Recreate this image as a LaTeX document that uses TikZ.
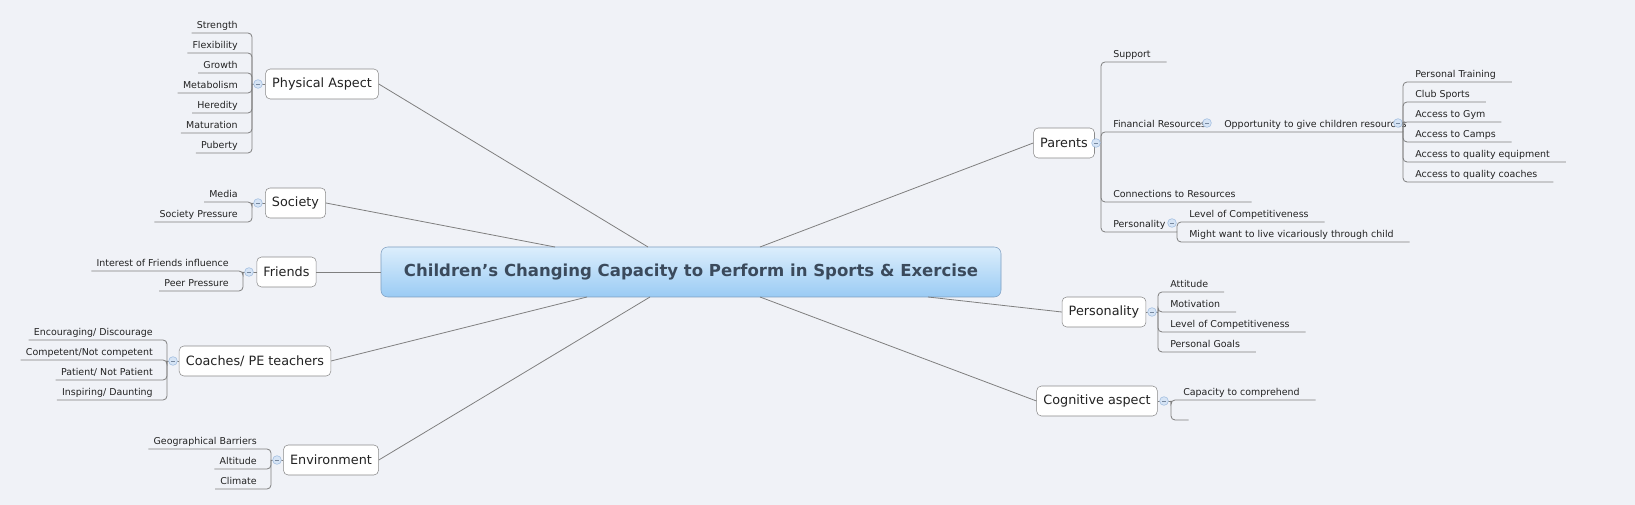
\documentclass[tikz,border=0pt]{standalone}
\usepackage{fontspec}
\setmainfont{DejaVu Sans}
\definecolor{bg}{HTML}{F0F2F7}
\definecolor{ln}{HTML}{7F7F7F}
\definecolor{bx}{HTML}{8A8A8A}
\definecolor{ctop}{HTML}{DCEEFC}
\definecolor{cbot}{HTML}{9ACBF4}
\definecolor{cbd}{HTML}{7E9EC0}
\definecolor{ttl}{HTML}{3B4A5C}
\definecolor{txt}{HTML}{222222}
\definecolor{cfill}{HTML}{D6E4F5}
\definecolor{cdraw}{HTML}{A9C3E3}
\tikzset{
  leaf/.style={inner xsep=3.75pt,inner ysep=0pt,text depth=3pt,text=txt,font=\fontsize{7.1}{8}\selectfont},
  br/.style={draw=ln,line width=0.6pt,rounded corners=3pt},
  main/.style={draw=bx,fill=white,rounded corners=3.5pt,minimum height=22.5pt,inner xsep=5pt,text=txt,font=\fontsize{9.6}{11}\selectfont},
  conn/.style={draw=ln,line width=0.6pt},
  coll/.style={circle,draw=cdraw,fill=cfill,minimum size=6.5pt,inner sep=0pt,line width=0.5pt,
     path picture={\draw[cdraw!70!black,line width=0.4pt] ([xshift=-1.6pt]path picture bounding box.center) -- ([xshift=1.6pt]path picture bounding box.center);}},
  center/.style={draw=cbd,rounded corners=5pt,top color=ctop,bottom color=cbot,minimum width=465pt,minimum height=37.5pt,text=ttl,font=\bfseries\fontsize{12.4}{14}\selectfont}
}
% left leaf: name, bracket x, y, text, hub
\newcommand\LLf[5]{\node[leaf,anchor=south east] (#1) at (#2-9,#3) {#4};
  \draw[br] (#1.south west) -- (#1.south east -| #5) -- (#5);}
% right leaf
\newcommand\RLf[5]{\node[leaf,anchor=south west] (#1) at (#2+7,#3) {#4};
  \draw[br] ([xshift=8pt]#1.south east) -- (#1.south west -| #5) -- (#5);}
\begin{document}
\begin{tikzpicture}[x=0.75pt,y=-0.75pt]
\fill[bg] (0,0) rectangle (1635,505);
\useasboundingbox (0,0) rectangle (1635,505);

\node[center] (C) at (691,272) {Children's Changing Capacity to Perform in Sports \& Exercise};

% ---- Physical Aspect
\node[main] (PA) at (322,84) {Physical Aspect};
\coordinate (hPA) at (252,84);
\LLf{pa1}{252}{33}{Strength}{hPA}
\LLf{pa2}{252}{53}{Flexibility}{hPA}
\LLf{pa3}{252}{73}{Growth}{hPA}
\LLf{pa4}{252}{93}{Metabolism}{hPA}
\LLf{pa5}{252}{113}{Heredity}{hPA}
\LLf{pa6}{252}{133}{Maturation}{hPA}
\LLf{pa7}{252}{153}{Puberty}{hPA}
\draw[conn] (hPA) -- (PA.west);
\node[coll] (cPA) at (258,84) {};

% ---- Society
\node[main] (SO) at (295.5,203) {Society};
\coordinate (hSO) at (252,203);
\LLf{so1}{252}{202}{Media}{hSO}
\LLf{so2}{252}{222}{Society Pressure}{hSO}
\draw[conn] (hSO) -- (SO.west);
\node[coll] (cSO) at (258,203) {};

% ---- Friends
\node[main] (FR) at (286.5,272) {Friends};
\coordinate (hFR) at (243,272);
\LLf{fr1}{243}{271}{Interest of Friends influence}{hFR}
\LLf{fr2}{243}{291}{Peer Pressure}{hFR}
\draw[conn] (hFR) -- (FR.west);
\node[coll] (cFR) at (249,272) {};

% ---- Coaches
\node[main] (CO) at (255,361) {Coaches/ PE teachers};
\coordinate (hCO) at (167,361);
\LLf{co1}{167}{340}{Encouraging/ Discourage}{hCO}
\LLf{co2}{167}{360}{Competent/Not competent}{hCO}
\LLf{co3}{167}{380}{Patient/ Not Patient}{hCO}
\LLf{co4}{167}{400}{Inspiring/ Daunting}{hCO}
\draw[conn] (hCO) -- (CO.west);
\node[coll] (cCO) at (173,361) {};

% ---- Environment
\node[main] (EN) at (331,460) {Environment};
\coordinate (hEN) at (271,460);
\LLf{en1}{271}{449}{Geographical Barriers}{hEN}
\LLf{en2}{271}{469}{Altitude}{hEN}
\LLf{en3}{271}{489}{Climate}{hEN}
\draw[conn] (hEN) -- (EN.west);
\node[coll] (cEN) at (277,460) {};

% ---- Parents
\node[main] (PR) at (1064,143) {Parents};
\coordinate (hPR) at (1101,143);
\RLf{pr1}{1101}{62}{Support}{hPR}
\coordinate (hOP) at (1403,132);
\node[leaf,anchor=south west] (pr2) at (1108,132) {Financial Resources};
\draw[br] (hOP) -- (pr2.south west -| hPR) -- (hPR);
\node[coll] (cFin) at (1207,123) {};
\node[leaf,anchor=south west] (op) at (1219,132) {Opportunity to give children resources};
\node[coll] (cOP) at (1398,123) {};
\RLf{op1}{1403}{82}{Personal Training}{hOP}
\RLf{op2}{1403}{102}{Club Sports}{hOP}
\RLf{op3}{1403}{122}{Access to Gym}{hOP}
\RLf{op4}{1403}{142}{Access to Camps}{hOP}
\RLf{op5}{1403}{162}{Access to quality equipment}{hOP}
\RLf{op6}{1403}{182}{Access to quality coaches}{hOP}
\RLf{pr3}{1101}{202}{Connections to Resources}{hPR}
\coordinate (hPP) at (1177,232);
\node[leaf,anchor=south west] (pr4) at (1108,232) {Personality};
\draw[br] (hPP) -- (pr4.south west -| hPR) -- (hPR);
\node[coll] (cPP) at (1172,223) {};
\RLf{pp1}{1177}{222}{Level of Competitiveness}{hPP}
\RLf{pp2}{1177}{242}{Might want to live vicariously through child}{hPP}
\draw[conn] (PR.east) -- (hPR);
\node[coll] (cPR) at (1096,143) {};

% ---- Personality
\node[main] (PE) at (1104,312) {Personality};
\coordinate (hPE) at (1158,312);
\RLf{pe1}{1158}{292}{Attitude}{hPE}
\RLf{pe2}{1158}{312}{Motivation}{hPE}
\RLf{pe3}{1158}{332}{Level of Competitiveness}{hPE}
\RLf{pe4}{1158}{352}{Personal Goals}{hPE}
\draw[conn] (PE.east) -- (hPE);
\node[coll] (cPE) at (1152,312) {};

% ---- Cognitive
\node[main] (CG) at (1097,401) {Cognitive aspect};
\coordinate (hCG) at (1171,401);
\RLf{cg1}{1171}{400}{Capacity to comprehend}{hCG}
\node[leaf,anchor=south west] (cg2) at (1178,420) {};
\draw[br] (cg2.south east) -- (cg2.south west -| hCG) -- (hCG);
\draw[conn] (CG.east) -- (hCG);
\node[coll] (cCG) at (1164,401) {};

% ---- connectors from centre
\coordinate (c1) at (648,247);
\coordinate (c2) at (555,247);
\coordinate (c4) at (587,297);
\coordinate (c5) at (650,297);
\coordinate (c6) at (760,247);
\coordinate (c7) at (928,297);
\coordinate (c8) at (760,297);
\draw[conn] (c1) -- (PA.east);
\draw[conn] (c2) -- (SO.east);
\draw[conn] (C.west) -- (FR.east);
\draw[conn] (c4) -- (CO.east);
\draw[conn] (c5) -- (EN.east);
\draw[conn] (c6) -- (PR.west);
\draw[conn] (c7) -- (PE.west);
\draw[conn] (c8) -- (CG.west);
\end{tikzpicture}
\end{document}
